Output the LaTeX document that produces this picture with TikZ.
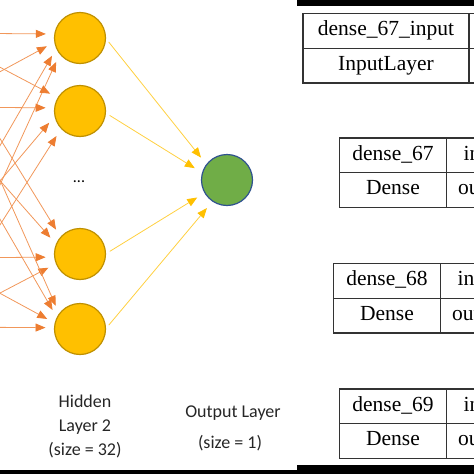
\documentclass[tikz,border=0pt]{standalone}
\usepackage{fontspec}
\setmainfont{Carlito}
\newfontfamily\tabfont{Liberation Serif}
\usetikzlibrary{arrows.meta}
\definecolor{hidfill}{HTML}{FFC000}
\definecolor{hidline}{HTML}{BF9000}
\definecolor{outfill}{HTML}{70AD47}
\definecolor{outborder}{HTML}{2F528F}
\definecolor{wgtorange}{HTML}{ED7D31}
\definecolor{wgtyellow}{HTML}{FFC000}
\begin{document}
\begin{tikzpicture}
  [x=1pt,y=-1pt,every node/.style={inner sep=0pt,outer sep=0pt},
   hid/.style={circle,fill=hidfill,draw=hidline,line width=1.2pt,minimum size=51pt},
   outn/.style={circle,fill=outfill,draw=outborder,line width=1.2pt,minimum size=51pt},
   inw/.style={draw=wgtorange!80,line width=0.8pt,-{Triangle[length=10pt,width=8pt,color=wgtorange]},shorten >=9pt},
   outw/.style={draw=wgtyellow!75,line width=0.8pt,-{Triangle[length=10pt,width=8pt,color=wgtyellow]},shorten <=5pt,shorten >=9pt},
   lbl/.style={font=\fontsize{18}{24}\selectfont,text=black!85},
   cell/.style={draw=black!80,line width=1.2pt,minimum height=34.8pt,text height=14pt,text depth=4.5pt,
     font=\tabfont\fontsize{21.5}{26}\selectfont}]
\useasboundingbox (0,0) rectangle (474,474);
\clip (0,0) rectangle (474,474);

% hidden layer 2 and output
\node (h1)[hid] at (80,38) {};
\node (h2)[hid] at (80,111) {};
\node (h3)[hid] at (80,254) {};
\node (h4)[hid] at (80,329) {};
\node (dots)[font=\fontsize{16}{18}\selectfont] at (79,182) {...};
\node (out)[outn] at (227,180) {};

% previous layer, off the left edge
\coordinate (g1) at (-65,33);
\coordinate (g2) at (-65,107);
\coordinate (g3) at (-65,258);
\coordinate (g4) at (-65,327);

\foreach \a/\b/\c/\d/\h in {171/189/203/218/h1,149/173/191/223/h2,139/158/187/202/h3,144/154/167/177/h4}
  {\draw[inw] (g1) -- (\h.\a);
   \draw[inw] (g2) -- (\h.\b);
   \draw[inw] (g3) -- (\h.\c);
   \draw[inw] (g4) -- (\h.\d);}

\path (h1.east) edge[outw] (out.143)
  (h2.356) edge[outw] (out.164)
  (h3.east) edge[outw] (out.210)
  (h4.east) edge[outw] (out.236);

\node (hl)[lbl,align=center] at (85,426) {Hidden\\Layer 2\\(size = 32)};
\node (ol)[lbl] at (233,413) {Output Layer};
\node (os)[lbl] at (230,443) {(size = 1)};

% model plot
\node (tan)[cell,minimum width=166pt] at (386,30.7) {dense\_67\_input};
\node (tak)[cell,minimum width=166pt,anchor=north] at (tan.south) {InputLayer};
\node (tai)[cell,minimum width=84pt,anchor=north west] at (tan.north east) {};
\node (tao)[cell,minimum width=84pt,anchor=north] at (tai.south) {};
\foreach \nm/\cx/\cy/\t in {dense\_67/393/155.4/tb,dense\_68/387/280.7/tc,dense\_69/393/406.4/td}
  {\node (\t n)[cell,minimum width=107.4pt] at (\cx,\cy) {\nm};
   \node (\t k)[cell,minimum width=107.4pt,anchor=north] at (\t n.south) {Dense};
   \node (\t i)[cell,minimum width=84pt,anchor=north west] at (\t n.north east) {input:};
   \node (\t o)[cell,minimum width=84pt,anchor=north] at (\t i.south) {output:};}

% black edges of the crop
\fill[black] (297,0) rectangle (474,6);
\fill[black] (0,470) -- (297,470) -- (297,465) -- (474,465) -- (474,474) -- (0,474) -- cycle;
\end{tikzpicture}
\end{document}
